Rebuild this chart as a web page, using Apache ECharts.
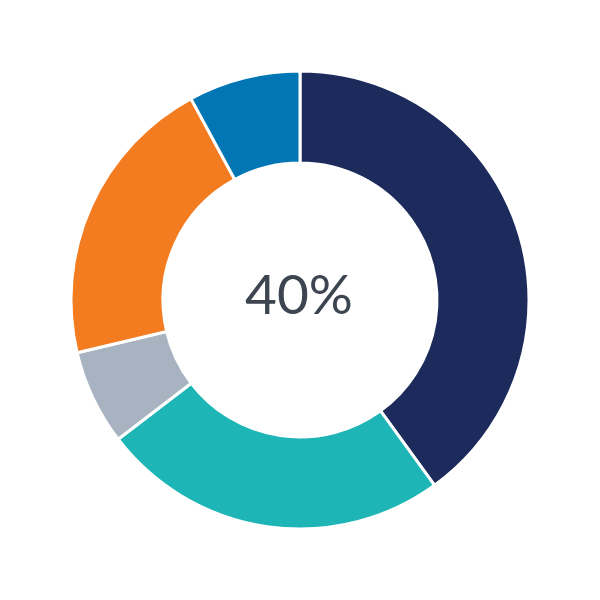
<!DOCTYPE html>
<html>
<head>
<meta charset="utf-8">
<script src="https://cdn.jsdelivr.net/npm/echarts@6/dist/echarts.min.js"></script>
<style>
  html, body { margin: 0; padding: 0; background: #fff; }
  #chart { width: 600px; height: 600px; }
</style>
</head>
<body>
<div id="chart"></div>
<script>
// slices clockwise from 12 o'clock, values in percent
const names = ['Navy', 'Teal', 'Gray', 'Orange', 'Blue'];
const values = [40, 24.6, 6.7, 20.8, 7.9];
const colors = ['#1c2b5b', '#1db5b5', '#a8b3c1', '#f47c20', '#0176b5'];
const centerLabel = '40%';

const chart = echarts.init(document.getElementById('chart'), null, { renderer: 'canvas' });

const option = {
  animation: false,
  graphic: [{
    type: 'text',
    x: 299,
    y: 296,
    style: {
      text: centerLabel,
      align: 'center',
      verticalAlign: 'middle',
      fontFamily: 'Lato',
      fontWeight: 'normal',
      fontSize: 55,
      fill: '#3d4550'
    }
  }],
  series: [{
    type: 'pie',
    center: [300, 300],
    radius: [137, 229],
    startAngle: 90,
    clockwise: true,
    label: { show: false },
    labelLine: { show: false },
    emphasis: { disabled: true },
    itemStyle: { borderColor: '#fff', borderWidth: 3 },
    data: names.map((n, i) => ({ name: n, value: values[i], itemStyle: { color: colors[i] } }))
  }]
};

chart.setOption(option);
</script>
</body>
</html>
